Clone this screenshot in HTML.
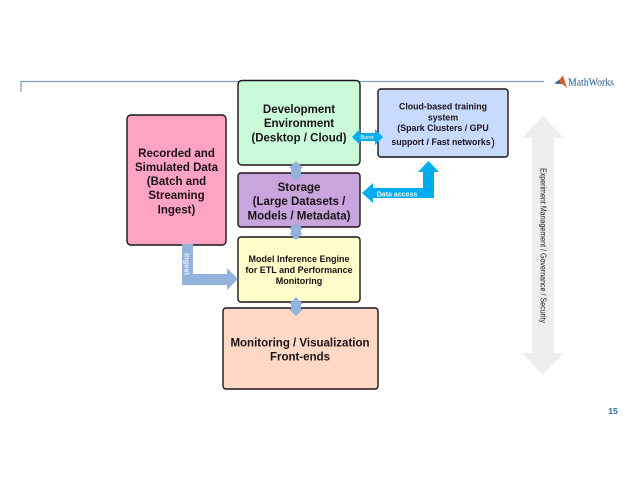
<!DOCTYPE html>
<html><head><meta charset="utf-8">
<style>
html,body{margin:0;padding:0;background:#fff;}
svg{display:block;}
text{font-family:"Liberation Sans",Arial,sans-serif;font-weight:bold;text-anchor:middle;fill:#1a1216;}
</style></head>
<body>
<svg width="638" height="493" viewBox="0 0 638 493" xmlns="http://www.w3.org/2000/svg">
<rect width="638" height="493" fill="#fff"/>
<path d="M21 92V81.500H544" fill="none" stroke="#7d9fc2" stroke-width="1.200"/>
<!-- logo -->
<path d="M554 83.500L559 80L563 75.500L567 88L563 84.500L559 83.500Z" fill="#d4602a"/>
<path d="M554 83.500L559 80L561 83.500L559 84Z" fill="#2f6a9c"/>
<text x="591" y="85.500" style="font-family:'Liberation Serif',serif;font-weight:normal;font-size:10.500px;fill:#3f6f9c;stroke:#3f6f9c;stroke-width:0.150" textLength="46" lengthAdjust="spacingAndGlyphs">MathWorks</text>
<!-- gray arrow -->
<path d="M543 116L564 138H554V353H564L543 375L522 353H532V138H522Z" fill="#eeeeee"/>
<text transform="translate(540.500,245.500) rotate(90)" style="font-weight:normal;font-size:8.500px;fill:#222" textLength="155" lengthAdjust="spacingAndGlyphs">Experiment Management / Governance / Security</text>
<!-- boxes -->
<g stroke="#1c1418" stroke-width="1.400">
<rect x="127" y="115" width="99" height="130" rx="4" fill="#ffa3c5"/>
<rect x="238" y="80.500" width="122" height="84.500" rx="4" fill="#c9fbd9"/>
<rect x="238" y="173" width="122" height="54" rx="3" fill="#c8a5dc"/>
<rect x="238" y="237" width="122" height="65" rx="3" fill="#ffffc9"/>
<rect x="223" y="308" width="155" height="81" rx="3" fill="#ffd9c6"/>
<rect x="378" y="89" width="130" height="68" rx="3" fill="#c9daff"/>
</g>
<!-- arrows -->
<path d="M182 244H193V274H227V268L238 279L227 290V285H182Z" fill="#94b3dc"/>
<path d="M352 137L360 129V133H375V129L383 137L375 145V141H360V145Z" fill="#00aeef"/>
<path d="M362 193L373 183V188H423V172H418L428.500 161L439 172H434V198H373V203Z" fill="#00aeef"/>
<g fill="#94b3dc">
<path d="M296 161L303 168H301V174H303L296 181L289 174H291V168H289Z"/>
<path d="M296 222L303 229H301V233H303L296 240L289 233H291V229H289Z"/>
<path d="M296 297L303 304H301V309H303L296 316L289 309H291V304H289Z"/>
</g>
<!-- labels -->
<text x="176.500" y="157" style="font-size:11.500px">Recorded and</text>
<text x="176.500" y="171" style="font-size:11.500px">Simulated Data</text>
<text x="176.500" y="185" style="font-size:11.500px">(Batch and</text>
<text x="176.500" y="199" style="font-size:11.500px">Streaming</text>
<text x="176.500" y="213.500" style="font-size:11.500px">Ingest)</text>
<text x="299" y="113" style="font-size:11.500px">Development</text>
<text x="299" y="127" style="font-size:11.500px">Environment</text>
<text x="299" y="141.500" style="font-size:11.500px">(Desktop / Cloud)</text>
<text x="299" y="191" style="font-size:11.500px">Storage</text>
<text x="299" y="205" style="font-size:11.500px">(Large Datasets /</text>
<text x="299" y="219.500" style="font-size:11.500px">Models / Metadata)</text>
<text x="300" y="346.500" style="font-size:11.500px">Monitoring / Visualization</text>
<text x="300" y="360.500" style="font-size:11.500px">Front-ends</text>
<text x="299" y="262" style="font-size:9px">Model Inference Engine</text>
<text x="299" y="273" style="font-size:9px">for ETL and Performance</text>
<text x="299" y="284" style="font-size:9px">Monitoring</text>
<text x="443" y="109.500" style="font-size:8.800px">Cloud-based training</text>
<text x="443" y="120.500" style="font-size:8.800px">system</text>
<text x="443" y="131" style="font-size:8.800px">(Spark Clusters / GPU</text>
<text x="441" y="145" style="font-size:8.800px">support / Fast networks</text>
<text x="493" y="146" style="font-size:12px;font-weight:normal">)</text>
<text x="397" y="196.500" style="font-size:7px;fill:#e6f6fd">Data access</text>
<text x="367" y="139" style="font-size:5px;fill:#d5effb">Burst</text>
<text transform="translate(184.500,264) rotate(90)" style="font-size:7.500px;fill:#eef3fa">Ingest</text>
<text x="613" y="414" style="font-size:8.500px;fill:#2f6b9e">15</text>
</svg>
</body></html>
